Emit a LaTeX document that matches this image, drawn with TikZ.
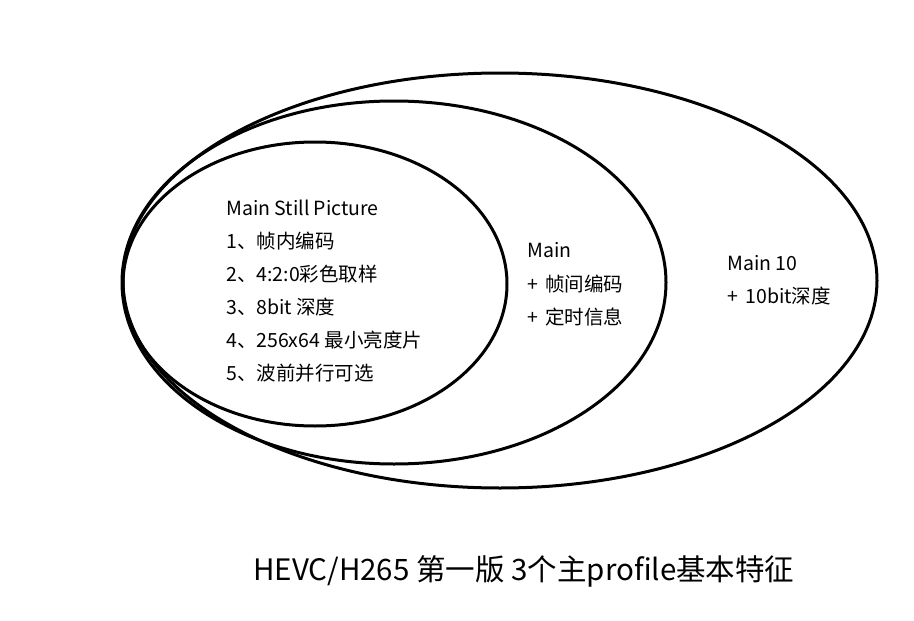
\documentclass[tikz,border=0pt]{standalone}
\usepackage{fontspec}
\setmainfont{Noto Sans CJK SC}
\usetikzlibrary{shapes.geometric}
\begin{document}
\begin{tikzpicture}[x=1pt,y=-1pt,
  ring/.style={draw=black,line width=3pt,ellipse,inner sep=0pt},
  lbl/.style={anchor=base west,inner sep=0pt,font=\fontsize{19.5}{23}\selectfont},
  ttl/.style={anchor=base west,inner sep=0pt,font=\fontsize{29.5}{34}\selectfont}]
\useasboundingbox[fill=white] (0,0) rectangle (914,621);
\node[ring,minimum width=754pt,minimum height=415pt] (outer) at (500,280.5) {};
\node[ring,minimum width=544pt,minimum height=363pt] (middle) at (394,282.5) {};
\node[ring,minimum width=384pt,minimum height=284pt] (inner) at (315,284) {};
\node[lbl] (msp) at (226,215) {Main Still Picture};
\node[lbl] (m1) at (226,248) {1、帧内编码};
\node[lbl] (m2) at (226,281) {2、4:2:0彩色取样};
\node[lbl] (m3) at (226,314) {3、8bit 深度};
\node[lbl] (m4) at (226,347) {4、256x64 最小亮度片};
\node[lbl] (m5) at (226,380) {5、波前并行可选};
\node[lbl] (main) at (527,257) {Main};
\node[lbl] (main1) at (527,291) {+\hspace{3pt} 帧间编码};
\node[lbl] (main2) at (527,324) {+\hspace{3pt} 定时信息};
\node[lbl] (m10) at (727,270) {Main 10};
\node[lbl] (m10a) at (727,303) {+\hspace{3pt} 10bit深度};
\node[ttl] (title) at (253,580) {HEVC/H265 第一版 3个主profile基本特征};
\end{tikzpicture}
\end{document}
